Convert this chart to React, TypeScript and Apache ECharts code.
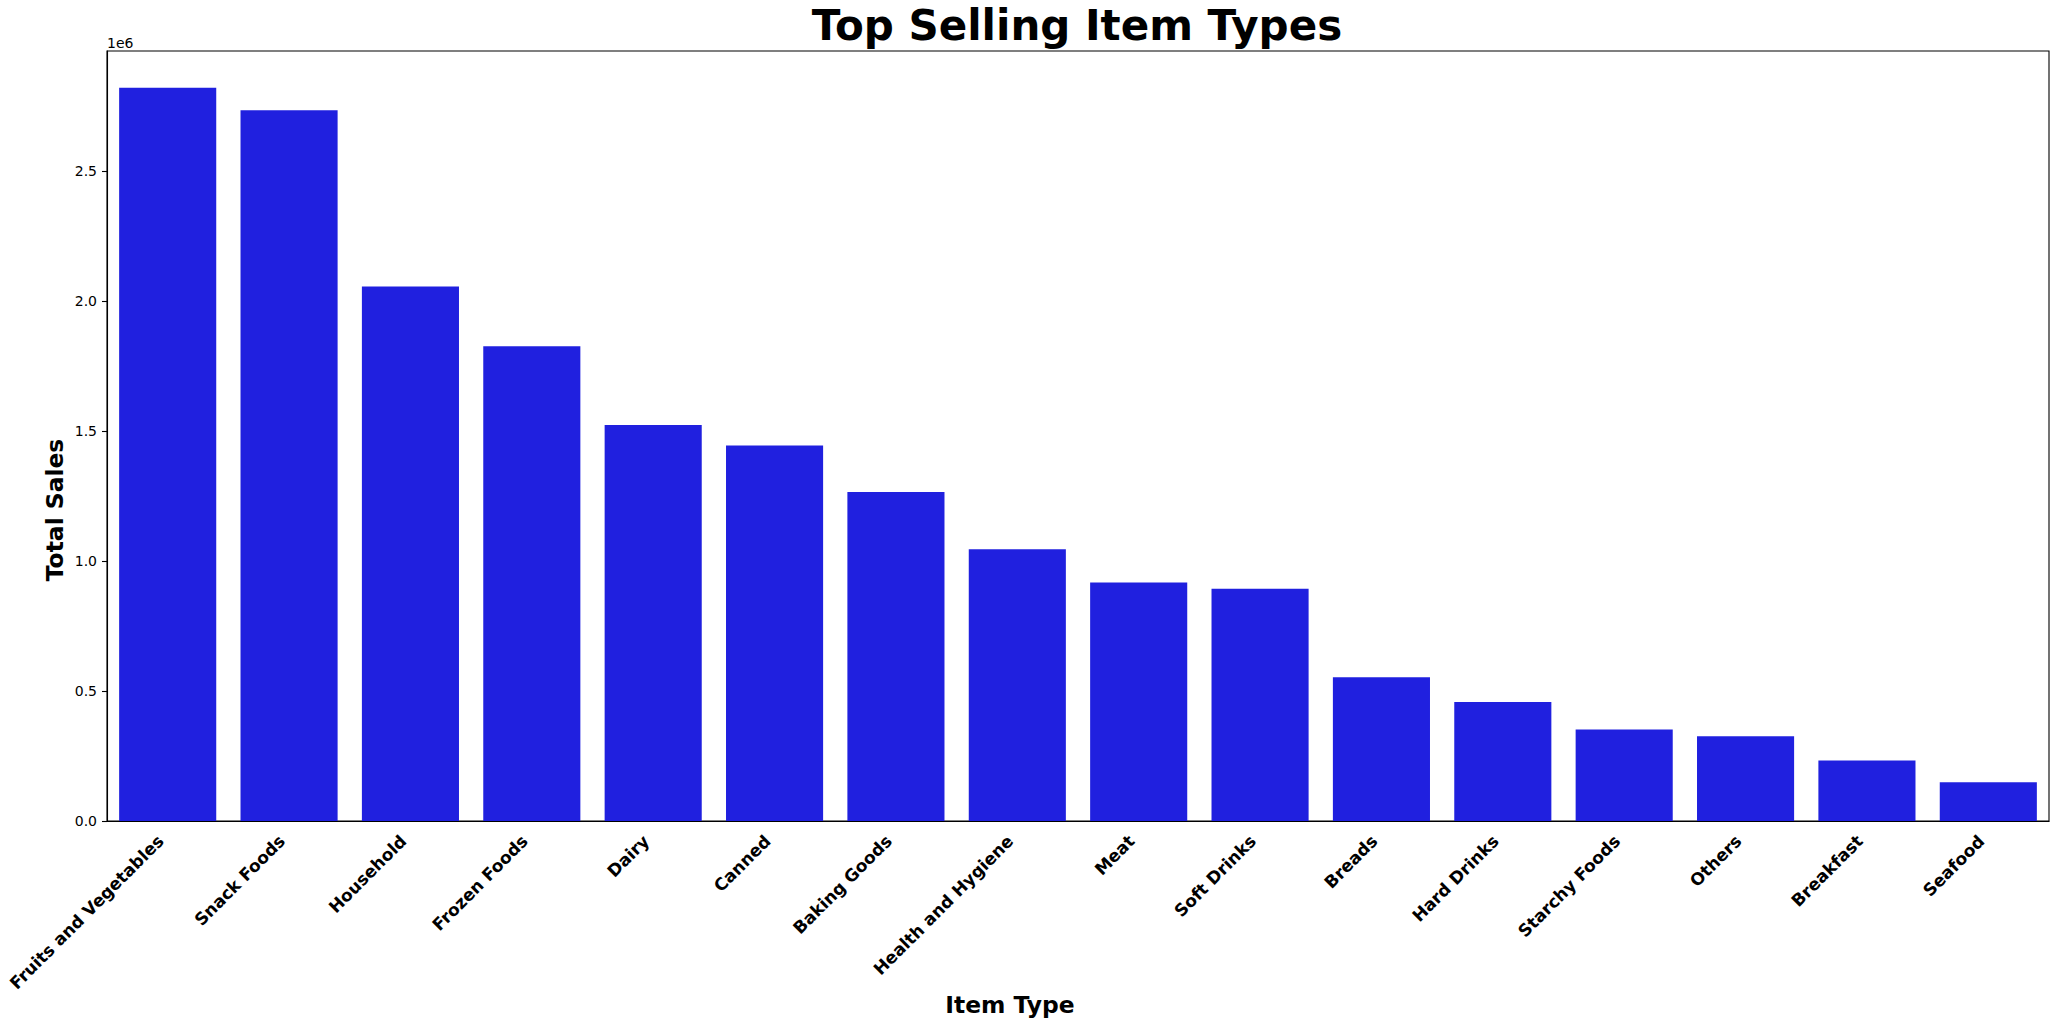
import { useEffect, useRef } from "react";
import * as echarts from "echarts";

const itemTypes = [
  "Fruits and Vegetables",
  "Snack Foods",
  "Household",
  "Frozen Foods",
  "Dairy",
  "Canned",
  "Baking Goods",
  "Health and Hygiene",
  "Meat",
  "Soft Drinks",
  "Breads",
  "Hard Drinks",
  "Starchy Foods",
  "Others",
  "Breakfast",
  "Seafood",
];

const totalSales = [
  2820060, 2732786, 2055494, 1825735, 1522594, 1444152, 1265525, 1045200,
  917566, 892898, 553237, 457793, 351401, 325518, 232299, 148868,
];

const yTicks = [0, 500000, 1000000, 1500000, 2000000, 2500000];

const FONT = "DejaVu Sans";

export default function App() {
  const chartRef = useRef<HTMLDivElement>(null);

  useEffect(() => {
    if (!chartRef.current) return;
    document.body.style.margin = "0";
    const chart = echarts.init(chartRef.current, null, { renderer: "svg" });

    // matplotlib-like 5% headroom above the tallest bar
    const yMax = Math.max(...totalSales) * 1.05;

    chart.setOption({
      animation: false,
      backgroundColor: "#ffffff",
      grid: {
        left: 107,
        right: 5,
        top: 51,
        bottom: 207,
        show: true,
        borderColor: "#000",
        borderWidth: 1.1,
        backgroundColor: "transparent",
      },
      xAxis: {
        type: "category",
        data: itemTypes,
        boundaryGap: true,
        axisLine: { lineStyle: { color: "#000", width: 1.1 } },
        axisTick: {
          alignWithLabel: true,
          length: 5,
          lineStyle: { color: "#000", width: 1.1 },
        },
        axisLabel: {
          rotate: 45,
          interval: 0,
          margin: 10,
          padding: [0, 10, 0, 0],
          color: "#000",
          fontFamily: FONT,
          fontWeight: "bold",
          fontSize: 17,
        },
        splitLine: { show: false },
      },
      yAxis: {
        type: "value",
        min: 0,
        max: yMax,
        interval: 500000,
        axisLine: { show: true, lineStyle: { color: "#000", width: 1.1 } },
        axisTick: {
          show: true,
          length: 5,
          customValues: yTicks,
          lineStyle: { color: "#000", width: 1.1 },
        },
        axisLabel: {
          margin: 10,
          color: "#000",
          fontFamily: FONT,
          fontSize: 14,
          customValues: yTicks,
          formatter: (v: number) => (v / 1e6).toFixed(1),
        },
        splitLine: { show: false },
      },
      series: [
        {
          type: "bar",
          data: totalSales,
          barCategoryGap: "20%",
          itemStyle: { color: "#2020df" },
        },
      ],
      graphic: [
        {
          type: "text",
          x: 1077,
          y: 25,
          style: {
            text: "Top Selling Item Types",
            fontFamily: FONT,
            fontWeight: "bold",
            fontSize: 42,
            fill: "#000",
            align: "center",
            verticalAlign: "middle",
          },
        },
        {
          type: "text",
          x: 107,
          y: 43,
          style: {
            text: "1e6",
            fontFamily: FONT,
            fontSize: 14,
            fill: "#000",
            align: "left",
            verticalAlign: "middle",
          },
        },
        {
          type: "text",
          x: 1010,
          y: 1005,
          style: {
            text: "Item Type",
            fontFamily: FONT,
            fontWeight: "bold",
            fontSize: 23.4,
            fill: "#000",
            align: "center",
            verticalAlign: "middle",
          },
        },
        {
          type: "text",
          x: 55,
          y: 510,
          rotation: Math.PI / 2,
          style: {
            text: "Total Sales",
            fontFamily: FONT,
            fontWeight: "bold",
            fontSize: 23.4,
            fill: "#000",
            align: "center",
            verticalAlign: "middle",
          },
        },
      ],
    });

    return () => chart.dispose();
  }, []);

  return <div ref={chartRef} style={{ width: "2054px", height: "1028px" }} />;
}
